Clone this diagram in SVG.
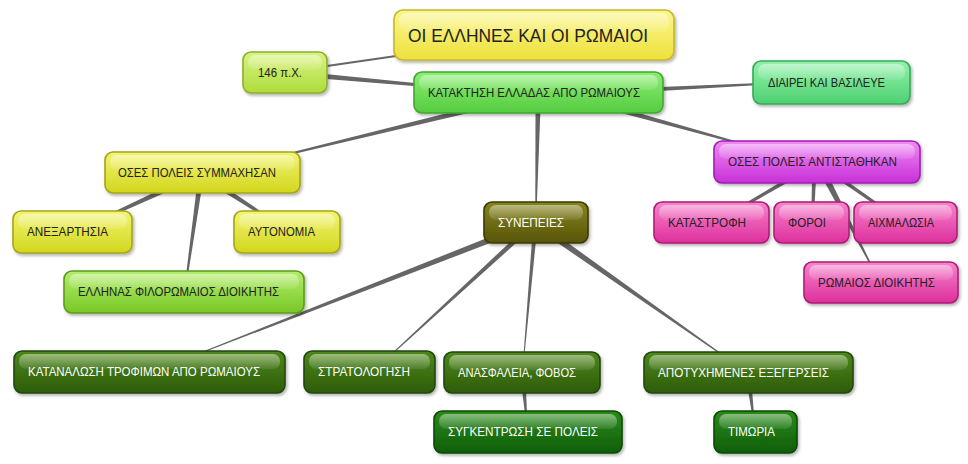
<svg xmlns="http://www.w3.org/2000/svg" width="968" height="464" viewBox="0 0 968 464">
<defs>
<filter id="sh" x="-10%" y="-20%" width="125%" height="150%">
<feDropShadow dx="1.5" dy="2" stdDeviation="1.5" flood-color="#000" flood-opacity="0.3"/>
</filter>
<linearGradient id="gTitle" x1="0" y1="0" x2="0" y2="1"><stop offset="0" stop-color="#fbf78e"/><stop offset="1" stop-color="#eee03c"/></linearGradient>
<linearGradient id="g146" x1="0" y1="0" x2="0" y2="1"><stop offset="0" stop-color="#d8f482"/><stop offset="1" stop-color="#aedb3c"/></linearGradient>
<linearGradient id="gKat" x1="0" y1="0" x2="0" y2="1"><stop offset="0" stop-color="#8cee74"/><stop offset="1" stop-color="#55cc40"/></linearGradient>
<linearGradient id="gMint" x1="0" y1="0" x2="0" y2="1"><stop offset="0" stop-color="#92f2aa"/><stop offset="1" stop-color="#4fd072"/></linearGradient>
<linearGradient id="gPurp" x1="0" y1="0" x2="0" y2="1"><stop offset="0" stop-color="#f08af6"/><stop offset="1" stop-color="#c82fd8"/></linearGradient>
<linearGradient id="gPink" x1="0" y1="0" x2="0" y2="1"><stop offset="0" stop-color="#f684cc"/><stop offset="1" stop-color="#de2f9c"/></linearGradient>
<linearGradient id="gYel" x1="0" y1="0" x2="0" y2="1"><stop offset="0" stop-color="#f3f572"/><stop offset="1" stop-color="#d2d61c"/></linearGradient>
<linearGradient id="gLime" x1="0" y1="0" x2="0" y2="1"><stop offset="0" stop-color="#b4ee6c"/><stop offset="1" stop-color="#78c826"/></linearGradient>
<linearGradient id="gOlive" x1="0" y1="0" x2="0" y2="1"><stop offset="0" stop-color="#86841e"/><stop offset="1" stop-color="#575508"/></linearGradient>
<linearGradient id="gDk" x1="0" y1="0" x2="0" y2="1"><stop offset="0" stop-color="#4e871a"/><stop offset="1" stop-color="#2d5c0a"/></linearGradient>
<linearGradient id="gDk2" x1="0" y1="0" x2="0" y2="1"><stop offset="0" stop-color="#2b8a1a"/><stop offset="1" stop-color="#0f5e0a"/></linearGradient>
<linearGradient id="gHl" x1="0" y1="0" x2="0" y2="1"><stop offset="0" stop-color="#fff" stop-opacity="0.45"/><stop offset="1" stop-color="#fff" stop-opacity="0.08"/></linearGradient>
</defs>
<style>
.box{filter:url(#sh);stroke-width:1.6}
.hl{fill:url(#gHl)}
.t{font-family:"Liberation Sans",Arial,sans-serif;font-size:12.2px;fill:#222}
.tw{fill:#fff}
.tt{font-size:18.5px}
.con{fill:#666}
.lin{stroke:#666;fill:none}
.title{fill:url(#gTitle);stroke:#c4b82a}
.c146{fill:url(#g146);stroke:#8db02c}
.kat{fill:url(#gKat);stroke:#40a82e}
.mint{fill:url(#gMint);stroke:#38a858}
.purp{fill:url(#gPurp);stroke:#9c22aa}
.pink{fill:url(#gPink);stroke:#ac1e76}
.yel{fill:url(#gYel);stroke:#a4a61a}
.lime{fill:url(#gLime);stroke:#5c9c1c}
.olive{fill:url(#gOlive);stroke:#3c3a06}
.dk{fill:url(#gDk);stroke:#22480a}
.dk2{fill:url(#gDk2);stroke:#0a4a06}
</style>
<rect width="968" height="464" fill="#fff"/>
<g id="connectors">
<line class="lin" x1="327" y1="66" x2="396" y2="56" stroke-width="2"/>
<polygon class="con" points="320,73.5 420,83.5 420,86.5 320,78.5"/>
<polygon class="con" points="660,87 760,83 760,85 660,91"/>
<polygon class="con" points="469.4,107.6 284.8,154 285.2,156 470.6,112.4"/>
<polygon class="con" points="535.5,108 535.3,205 536.8,205 540.5,108"/>
<polygon class="con" points="604.3,108.4 734.7,143 735.3,141 605.7,103.6"/>
<polygon class="con" points="163.9,187.7 114.4,211.6 115.6,214.4 166.1,192.3"/>
<polygon class="con" points="196.5,190 186,275 188,275 201.5,190"/>
<polygon class="con" points="223.6,192.1 261.2,215.3 262.8,212.7 226.4,187.9"/>
<polygon class="con" points="787,178.3 744.3,203.7 745.8,206.3 789,181.7"/>
<polygon class="con" points="812,180 811.5,205 814.5,205 816,180"/>
<polygon class="con" points="840.9,181.6 877.1,206.2 878.9,203.8 843.1,178.4"/>
<polygon class="con" points="824.3,181.4 870.3,265.3 871.7,264.7 829.7,178.6"/>
<polygon class="con" points="493.9,235.2 202.8,351.5 203.2,352.5 496.1,240.8"/>
<polygon class="con" points="516.3,236.2 392.7,352.6 393.3,353.4 519.7,239.8"/>
<polygon class="con" points="532,240 523.5,355 524.5,355 536,240"/>
<polygon class="con" points="556.3,242 720.6,354.6 721.4,353.4 559.7,237"/>
<polygon class="con" points="522,390 525,414 527,414 526,390"/>
<polygon class="con" points="748,390 752,414 754,414 752,390"/>
</g>
<g id="n-title"><rect class="box title" x="394" y="10" width="280" height="50" rx="9"/><rect class="hl" x="399" y="13" width="270" height="19" rx="8"/><text class="t tt" x="408" y="42" textLength="240" lengthAdjust="spacingAndGlyphs">ΟΙ ΕΛΛΗΝΕΣ ΚΑΙ ΟΙ ΡΩΜΑΙΟΙ</text></g>
<g id="n-146"><rect class="box c146" x="243" y="52" width="84" height="41" rx="8"/><rect class="hl" x="248" y="55" width="74" height="15" rx="7"/><text class="t" x="258" y="77" textLength="44" lengthAdjust="spacingAndGlyphs">146 π.Χ.</text></g>
<g id="n-kataktisi"><rect class="box kat" x="414" y="72" width="249" height="41" rx="8"/><rect class="hl" x="419" y="75" width="239" height="15" rx="7"/><text class="t" x="428" y="97" textLength="212" lengthAdjust="spacingAndGlyphs">ΚΑΤΑΚΤΗΣΗ ΕΛΛΑΔΑΣ ΑΠΟ ΡΩΜΑΙΟΥΣ</text></g>
<g id="n-diairei"><rect class="box mint" x="753" y="61" width="157" height="43" rx="8"/><rect class="hl" x="758" y="64" width="147" height="16" rx="7"/><text class="t" x="768" y="87" textLength="117" lengthAdjust="spacingAndGlyphs">ΔΙΑΙΡΕΙ ΚΑΙ ΒΑΣΙΛΕΥΕ</text></g>
<g id="n-antistathikan"><rect class="box purp" x="714" y="141" width="206" height="42" rx="8"/><rect class="hl" x="719" y="144" width="196" height="15" rx="7"/><text class="t" x="728" y="166" textLength="169" lengthAdjust="spacingAndGlyphs">ΟΣΕΣ ΠΟΛΕΙΣ ΑΝΤΙΣΤΑΘΗΚΑΝ</text></g>
<g id="n-katastrofi"><rect class="box pink" x="654" y="202" width="115" height="41" rx="8"/><rect class="hl" x="659" y="205" width="105" height="15" rx="7"/><text class="t" x="668" y="227" textLength="78" lengthAdjust="spacingAndGlyphs">ΚΑΤΑΣΤΡΟΦΗ</text></g>
<g id="n-foroi"><rect class="box pink" x="774" y="202" width="75" height="41" rx="8"/><rect class="hl" x="779" y="205" width="65" height="15" rx="7"/><text class="t" x="788" y="227" textLength="38" lengthAdjust="spacingAndGlyphs">ΦΟΡΟΙ</text></g>
<g id="n-aixmalosia"><rect class="box pink" x="854" y="202" width="103" height="41" rx="8"/><rect class="hl" x="859" y="205" width="93" height="15" rx="7"/><text class="t" x="868" y="227" textLength="66" lengthAdjust="spacingAndGlyphs">ΑΙΧΜΑΛΩΣΙΑ</text></g>
<g id="n-romaios"><rect class="box pink" x="804" y="262" width="154" height="41" rx="8"/><rect class="hl" x="809" y="265" width="144" height="15" rx="7"/><text class="t" x="818" y="287" textLength="117" lengthAdjust="spacingAndGlyphs">ΡΩΜΑΙΟΣ ΔΙΟΙΚΗΤΗΣ</text></g>
<g id="n-symmaxisan"><rect class="box yel" x="105" y="152" width="195" height="41" rx="8"/><rect class="hl" x="110" y="155" width="185" height="15" rx="7"/><text class="t" x="118" y="177" textLength="158" lengthAdjust="spacingAndGlyphs">ΟΣΕΣ ΠΟΛΕΙΣ ΣΥΜΜΑΧΗΣΑΝ</text></g>
<g id="n-anexartisia"><rect class="box yel" x="13" y="211" width="119" height="42" rx="8"/><rect class="hl" x="18" y="214" width="109" height="15" rx="7"/><text class="t" x="27" y="236" textLength="81" lengthAdjust="spacingAndGlyphs">ΑΝΕΞΑΡΤΗΣΙΑ</text></g>
<g id="n-autonomia"><rect class="box yel" x="234" y="211" width="106" height="42" rx="8"/><rect class="hl" x="239" y="214" width="96" height="15" rx="7"/><text class="t" x="248" y="236" textLength="67" lengthAdjust="spacingAndGlyphs">ΑΥΤΟΝΟΜΙΑ</text></g>
<g id="n-ellinas"><rect class="box lime" x="64" y="271" width="240" height="42" rx="8"/><rect class="hl" x="69" y="274" width="230" height="15" rx="7"/><text class="t" x="78" y="296" textLength="201" lengthAdjust="spacingAndGlyphs">ΕΛΛΗΝΑΣ ΦΙΛΟΡΩΜΑΙΟΣ ΔΙΟΙΚΗΤΗΣ</text></g>
<g id="n-synepeies"><rect class="box olive" x="484" y="202" width="104" height="41" rx="8"/><rect class="hl" x="489" y="205" width="94" height="15" rx="7"/><text class="t tw" x="498" y="227" textLength="66" lengthAdjust="spacingAndGlyphs">ΣΥΝΕΠΕΙΕΣ</text></g>
<g id="n-katanalosi"><rect class="box dk" x="14" y="351" width="271" height="42" rx="8"/><rect class="hl" x="19" y="354" width="261" height="15" rx="7"/><text class="t tw" x="28" y="376" textLength="232" lengthAdjust="spacingAndGlyphs">ΚΑΤΑΝΑΛΩΣΗ ΤΡΟΦΙΜΩΝ ΑΠΟ ΡΩΜΑΙΟΥΣ</text></g>
<g id="n-stratologisi"><rect class="box dk" x="304" y="351" width="131" height="42" rx="8"/><rect class="hl" x="309" y="354" width="121" height="15" rx="7"/><text class="t tw" x="318" y="376" textLength="92" lengthAdjust="spacingAndGlyphs">ΣΤΡΑΤΟΛΟΓΗΣΗ</text></g>
<g id="n-anasfaleia"><rect class="box dk" x="444" y="352" width="156" height="41" rx="8"/><rect class="hl" x="449" y="355" width="146" height="15" rx="7"/><text class="t tw" x="458" y="377" textLength="118" lengthAdjust="spacingAndGlyphs">ΑΝΑΣΦΑΛΕΙΑ, ΦΟΒΟΣ</text></g>
<g id="n-apotyximenes"><rect class="box dk" x="644" y="352" width="209" height="41" rx="8"/><rect class="hl" x="649" y="355" width="199" height="15" rx="7"/><text class="t tw" x="658" y="377" textLength="171" lengthAdjust="spacingAndGlyphs">ΑΠΟΤΥΧΗΜΕΝΕΣ ΕΞΕΓΕΡΣΕΙΣ</text></g>
<g id="n-sygkentrosi"><rect class="box dk2" x="434" y="411" width="188" height="42" rx="8"/><rect class="hl" x="439" y="414" width="178" height="15" rx="7"/><text class="t tw" x="448" y="436" textLength="150" lengthAdjust="spacingAndGlyphs">ΣΥΓΚΕΝΤΡΩΣΗ ΣΕ ΠΟΛΕΙΣ</text></g>
<g id="n-timoria"><rect class="box dk2" x="714" y="411" width="83" height="42" rx="8"/><rect class="hl" x="719" y="414" width="73" height="15" rx="7"/><text class="t tw" x="728" y="436" textLength="47" lengthAdjust="spacingAndGlyphs">ΤΙΜΩΡΙΑ</text></g>
</svg>
